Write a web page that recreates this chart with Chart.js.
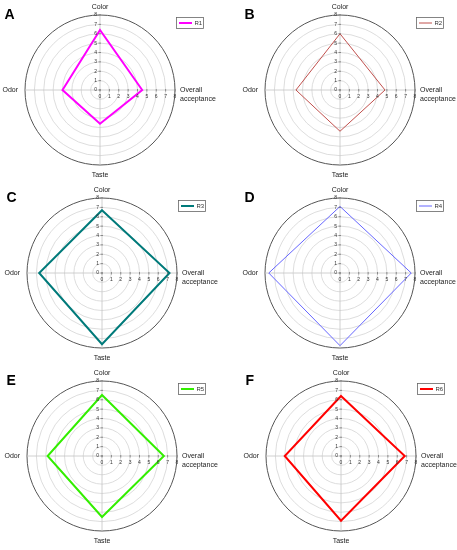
<!DOCTYPE html>
<html>
<head>
<meta charset="utf-8">
<script src="https://cdn.jsdelivr.net/npm/chart.js@4"></script>
<style>
  html, body { margin: 0; padding: 0; background: #fff; }
  body { width: 457px; height: 550px; position: relative; overflow: hidden; }
  canvas { position: absolute; }
</style>
</head>
<body>
<script>
// ---- data ----
const categories = ['Color', 'Overall acceptance', 'Taste', 'Odor'];
const tickLabels = ['0', '1', '2', '3', '4', '5', '6', '7', '8'];
const seriesNames = ['R1', 'R2', 'R3', 'R4', 'R5', 'R6'];
const panelLetters = ['A', 'B', 'C', 'D', 'E', 'F'];
const r1 = [6.4, 4.5, 3.6, 4.0];
const r2 = [6.0, 4.8, 4.4, 4.7];
const r3 = [6.7, 7.2, 7.6, 6.7];
const r4 = [7.1, 7.6, 7.75, 7.6];
const r5 = [6.5, 6.6, 6.5, 5.8];
const r6 = [6.4, 6.8, 6.9, 6.0];
const seriesValues = [r1, r2, r3, r4, r5, r6];

// ---- styles ----
const seriesColors = ['#ff00ff', '#c0504d', '#007a7a', '#6666ff', '#33ee00', '#ff0000'];
const seriesWidths = [2, 1, 2, 1, 2, 2];
const panelCenters = [[100, 90], [340, 90], [102, 273], [340, 273], [102, 456], [341, 456]];
const FONT = '"Liberation Sans", Arial, sans-serif';

const decorPlugin = {
  id: 'decor',
  afterDatasetsDraw(chart, args, opts) {
    const ctx = chart.ctx;
    const s = chart.scales.r;
    const cx = s.xCenter, cy = s.yCenter, R = s.drawingArea;
    ctx.save();
    // tick labels along vertical and horizontal axes
    ctx.fillStyle = '#333';
    ctx.strokeStyle = '#555';
    ctx.lineWidth = 0.6;
    ctx.font = '5px ' + FONT;
    s.ticks.forEach((t, i) => {
      const d = s.getDistanceFromCenterForValue(t.value);
      const lab = tickLabels[i] !== undefined ? tickLabels[i] : String(t.value);
      // vertical axis labels
      ctx.textAlign = 'right'; ctx.textBaseline = 'middle';
      ctx.fillText(lab, cx - 3, cy - d);
      ctx.beginPath(); ctx.moveTo(cx - 1.5, cy - d); ctx.lineTo(cx + 1, cy - d); ctx.stroke();
      // horizontal axis labels
      ctx.textAlign = 'center'; ctx.textBaseline = 'top';
      ctx.fillText(lab, cx + d, cy + 4);
      ctx.beginPath(); ctx.moveTo(cx + d, cy - 1); ctx.lineTo(cx + d, cy + 1.5); ctx.stroke();
    });
    // category labels
    ctx.fillStyle = '#222';
    ctx.font = '7px ' + FONT;
    const labs = chart.data.labels;
    // top
    ctx.textAlign = 'center'; ctx.textBaseline = 'middle';
    ctx.fillText(labs[0], cx, cy - R - 7.5);
    // right (two lines)
    const parts = labs[1].split(' ');
    ctx.textAlign = 'left';
    ctx.fillText(parts[0], cx + R + 5, cy);
    ctx.fillText(parts.slice(1).join(' '), cx + R + 5, cy + 9);
    // bottom
    ctx.textAlign = 'center';
    ctx.fillText(labs[2], cx, cy + R + 10.5);
    // left
    ctx.textAlign = 'right';
    ctx.fillText(labs[3], cx - R - 7, cy);
    // legend box
    const ds = chart.data.datasets[0];
    const lx = cx + 76, ly = cy - 73;
    ctx.strokeStyle = '#666'; ctx.lineWidth = 0.8;
    ctx.strokeRect(lx + 0.5, ly + 0.5, 27, 11);
    ctx.strokeStyle = ds.borderColor; ctx.lineWidth = ds.borderWidth;
    ctx.beginPath(); ctx.moveTo(lx + 3, ly + 6); ctx.lineTo(lx + 16, ly + 6); ctx.stroke();
    ctx.fillStyle = '#333'; ctx.font = '6px ' + FONT;
    ctx.textAlign = 'left'; ctx.textBaseline = 'middle';
    ctx.fillText(ds.label, lx + 18.5, ly + 6.2);
    // panel letter
    ctx.fillStyle = '#000';
    ctx.font = 'bold 14px ' + FONT;
    ctx.textAlign = 'left'; ctx.textBaseline = 'alphabetic';
    ctx.fillText(opts.letter, cx - 95.5, cy - 71);
    ctx.restore();
  }
};

seriesValues.forEach((vals, k) => {
  const cnv = document.createElement('canvas');
  const W = 220, H = 183;
  cnv.width = W; cnv.height = H;
  cnv.style.width = W + 'px'; cnv.style.height = H + 'px';
  cnv.style.left = (panelCenters[k][0] - 100) + 'px';
  cnv.style.top = (panelCenters[k][1] - 90) + 'px';
  document.body.appendChild(cnv);
  new Chart(cnv, {
    type: 'radar',
    data: {
      labels: categories,
      datasets: [{
        label: seriesNames[k],
        data: vals,
        borderColor: seriesColors[k],
        borderWidth: seriesWidths[k],
        fill: false,
        pointRadius: 0,
        tension: 0
      }]
    },
    options: {
      responsive: false,
      animation: false,
      devicePixelRatio: 1,
      layout: { padding: { left: 25, right: W - 175, top: 15, bottom: H - 165 } },
      plugins: {
        legend: { display: false },
        tooltip: { enabled: false },
        decor: { letter: panelLetters[k] }
      },
      scales: {
        r: {
          min: 0, max: 8,
          ticks: { display: false, stepSize: 1 },
          pointLabels: { display: false },
          grid: {
            circular: true,
            color: (c) => (c.tick && c.tick.value === 8) ? '#555555' : '#d4d4d4',
            lineWidth: (c) => (c.tick && c.tick.value === 8) ? 1 : 0.8
          },
          angleLines: { display: true, color: '#c4c4c4', lineWidth: 0.8 }
        }
      }
    },
    plugins: [decorPlugin]
  });
});
</script>
</body>
</html>
